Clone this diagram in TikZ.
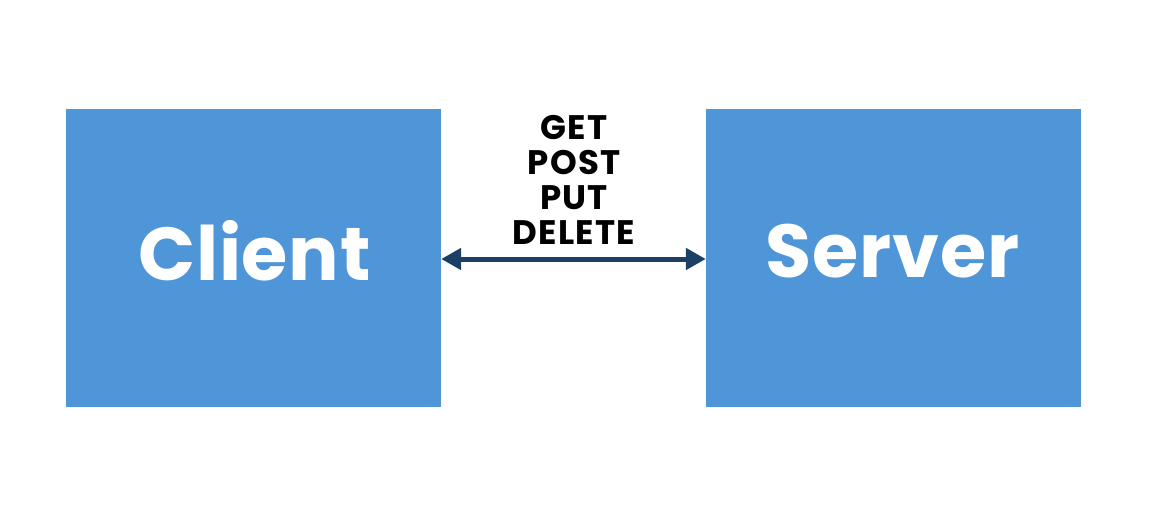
\documentclass[tikz,border=0pt]{standalone}
\usepackage{fontspec}
\setmainfont{Poppins}[UprightFont=* Bold, BoldFont=* Bold]
\usetikzlibrary{arrows.meta}
\definecolor{boxblue}{HTML}{4F96D9}
\definecolor{navy}{HTML}{1C3F66}
\begin{document}
\begin{tikzpicture}[x=1pt,y=-1pt,
  pbox/.style={fill=boxblue,draw=none,minimum width=375pt,minimum height=298pt,inner sep=0pt,text=white},
  biglabel/.style={text=white,inner sep=0pt,font=\fontsize{75}{75}\selectfont\addfontfeatures{LetterSpace=1}},
  methods/.style={align=center,font=\fontsize{34}{35}\selectfont\addfontfeatures{LetterSpace=3.5},text=black,inner sep=0pt}]
\useasboundingbox (0,0) rectangle (1162,532);
\node[pbox] (client) at (253.5,258) {};
\node[pbox] (server) at (893.5,258) {};
\node[biglabel] (clientlbl) at (254.5,251) {Client};
\node[biglabel] (serverlbl) at (892.5,251) {Server};
\draw[navy,line width=5pt,{Triangle[length=20pt,width=21pt]}-{Triangle[length=20pt,width=21pt]}] (client.east |- 0,259) -- (server.west |- 0,259);
\node[methods] (m) at (574,180) {GET\\POST\\PUT\\DELETE};
\end{tikzpicture}
\end{document}
